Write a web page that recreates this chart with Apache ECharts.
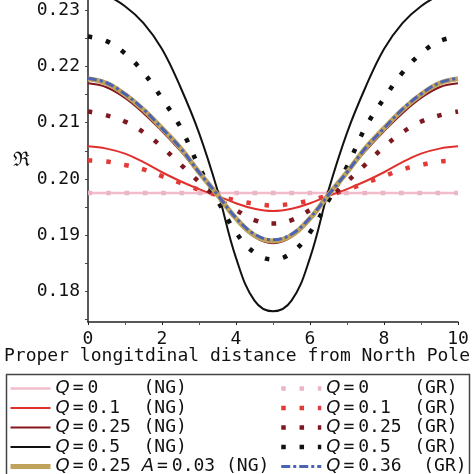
<!DOCTYPE html>
<html>
<head>
<meta charset="utf-8">
<script src="https://cdn.jsdelivr.net/npm/echarts@6/dist/echarts.min.js"></script>
<style>
html, body { margin: 0; padding: 0; background: #fff; }
#chart { width: 474px; height: 474px; }
</style>
</head>
<body>
<div id="chart"></div>
<script>
// proper distance (x) and R values
var xs = [0, 0.5, 1, 1.5, 2, 2.5, 3, 3.5, 4, 4.5, 5, 5.5, 6, 6.5, 7, 7.5, 8, 8.5, 9, 9.5, 10]

var ngQ0 = [0.1975, 0.1975, 0.1975, 0.1975, 0.1975, 0.1975, 0.1975, 0.1975, 0.1975, 0.1975, 0.1975,
    0.1975, 0.1975, 0.1975, 0.1975, 0.1975, 0.1975, 0.1975, 0.1975, 0.1975, 0.1975]
var ngQ01 = [0.2058, 0.2054, 0.2045, 0.2030, 0.2012, 0.1996, 0.1982, 0.1970, 0.1957, 0.1947, 0.1943,
    0.1947, 0.1957, 0.1970, 0.1982, 0.1996, 0.2012, 0.2030, 0.2045, 0.2054, 0.2058]
var ngQ025 = [0.2170, 0.2163, 0.2144, 0.2117, 0.2085, 0.2050, 0.2010, 0.1971, 0.1928, 0.1897, 0.1886,
    0.1897, 0.1928, 0.1971, 0.2010, 0.2050, 0.2085, 0.2117, 0.2144, 0.2163, 0.2170]
var ngQ05 = [0.2334, 0.2326, 0.2307, 0.2277, 0.2231, 0.2163, 0.2082, 0.1980, 0.1860, 0.1784, 0.1765,
    0.1784, 0.1860, 0.1980, 0.2082, 0.2163, 0.2231, 0.2277, 0.2307, 0.2326, 0.2334]
var ngQ025A = [0.2178, 0.2170, 0.2150, 0.2123, 0.2090, 0.2055, 0.2012, 0.1972, 0.1930, 0.1900, 0.1890,
    0.1900, 0.1930, 0.1972, 0.2012, 0.2055, 0.2090, 0.2123, 0.2150, 0.2170, 0.2178]

var grQ0 = [0.1975, 0.1975, 0.1975, 0.1975, 0.1975, 0.1975, 0.1975, 0.1975, 0.1975, 0.1975, 0.1975,
    0.1975, 0.1975, 0.1975, 0.1975, 0.1975, 0.1975, 0.1975, 0.1975, 0.1975, 0.1975]
var grQ01 = [0.2033, 0.2031, 0.2025, 0.2017, 0.2005, 0.1993, 0.1981, 0.1971, 0.1962, 0.1956, 0.1953,
    0.1956, 0.1962, 0.1971, 0.1981, 0.1993, 0.2005, 0.2017, 0.2025, 0.2031, 0.2033]
var grQ025 = [0.2120, 0.2113, 0.2102, 0.2083, 0.2057, 0.2026, 0.1995, 0.1966, 0.1945, 0.1927, 0.1921,
    0.1927, 0.1945, 0.1966, 0.1995, 0.2026, 0.2057, 0.2083, 0.2102, 0.2113, 0.2120]
var grQ05 = [0.2253, 0.2245, 0.2223, 0.2189, 0.2143, 0.2092, 0.2022, 0.1962, 0.1905, 0.1869, 0.1857,
    0.1869, 0.1905, 0.1962, 0.2022, 0.2092, 0.2143, 0.2189, 0.2223, 0.2245, 0.2253]
var grQ036 = [0.2179, 0.2171, 0.2151, 0.2124, 0.2090, 0.2055, 0.2012, 0.1972, 0.1931, 0.1902, 0.1892,
    0.1902, 0.1931, 0.1972, 0.2012, 0.2055, 0.2090, 0.2124, 0.2151, 0.2171, 0.2179]

var yTickLabels = [0.18, 0.19, 0.20, 0.21, 0.22, 0.23]
var yTicks = [0.175, 0.18, 0.185, 0.19, 0.195, 0.20, 0.205, 0.21, 0.215, 0.22, 0.225, 0.23]

var mono = 'DejaVu Sans Mono'

// legend texts, keyed by series name
var legendText = {
    'ng0': '{q|Q}{e|=}{v|0}{n|(NG)}',
    'ng01': '{q|Q}{e|=}{v|0.1}{n|(NG)}',
    'ng025': '{q|Q}{e|=}{v|0.25}{n|(NG)}',
    'ng05': '{q|Q}{e|=}{v|0.5}{n|(NG)}',
    'ng025A': '{q|Q}{e|=}{n|0.25 }{q|A}{e|=}{n|0.03 (NG)}',
    'gr0': '{q|Q}{e|=}{v|0}{n|(GR)}',
    'gr01': '{q|Q}{e|=}{v|0.1}{n|(GR)}',
    'gr025': '{q|Q}{e|=}{v|0.25}{n|(GR)}',
    'gr05': '{q|Q}{e|=}{v|0.5}{n|(GR)}',
    'gr036': '{q|Q}{e|=}{n|0.36  (GR)}'
}

function pairs(arr) {
    return xs.map(function (x, i) { return [x, arr[i]] })
}

function solid(name, arr, color, width) {
    return {
        name: name, type: 'line', data: pairs(arr), smooth: 0.4,
        symbol: 'none', color: color,
        lineStyle: { color: color, width: width }
    }
}

function dotted(name, arr, color) {
    return {
        name: name, type: 'line', data: pairs(arr), smooth: 0.4,
        symbol: 'none', color: color,
        lineStyle: { color: color, width: 4.5, type: [4.5, 13.8], cap: 'butt' }
    }
}

function legendBox(left, names) {
    return {
        orient: 'vertical', left: left, top: 379, height: 130, padding: 0,
        itemWidth: 40, itemHeight: 14, itemGap: 0.5,
        selectedMode: false,
        data: names,
        itemStyle: { opacity: 0 },
        lineStyle: { width: 'inherit' },
        formatter: function (name) { return legendText[name] },
        textStyle: {
            fontFamily: mono, fontSize: 18, color: '#111', lineHeight: 19,
            rich: {
                q: { fontFamily: 'DejaVu Sans', fontStyle: 'italic', fontSize: 18, lineHeight: 19 },
                e: { fontFamily: mono, fontSize: 18, padding: [0, 4, 0, 3], lineHeight: 19 },
                v: { fontFamily: mono, fontSize: 18, width: 56, align: 'left', lineHeight: 19 },
                n: { fontFamily: mono, fontSize: 18, lineHeight: 19 }
            }
        }
    }
}

window.onload = function () {
    var chart = echarts.init(document.getElementById('chart'), null, { renderer: 'canvas' })

    var option = {
        animation: false,
        backgroundColor: '#fff',
        textStyle: { fontFamily: mono },
        title: {
            text: 'Proper longitdinal distance from North Pole',
            left: 'center', top: 347, padding: 0,
            textStyle: { fontFamily: mono, fontSize: 18, fontWeight: 'normal', color: '#111' }
        },
        grid: { left: 88, right: 16, top: 0, bottom: 152 },
        xAxis: {
            type: 'value', min: 0, max: 10, interval: 2,
            axisLine: { lineStyle: { color: '#222', width: 1.5 } },
            axisTick: { inside: false, length: 3, lineStyle: { color: '#222' } },
            minorTick: { show: true, splitNumber: 2, length: 3, lineStyle: { color: '#555' } },
            splitLine: { show: false },
            axisLabel: { fontSize: 18, color: '#111', margin: 8, fontFamily: mono }
        },
        yAxis: {
            type: 'value', min: 0.1746, max: 0.2318,
            name: 'ℜ', nameLocation: 'middle', nameRotate: 0, nameGap: 58,
            nameTextStyle: { fontFamily: 'DejaVu Serif', fontSize: 20, color: '#111' },
            axisLine: { show: true, lineStyle: { color: '#222', width: 1.5 } },
            axisTick: { show: true, length: 3, customValues: yTicks, lineStyle: { color: '#444' } },
            splitLine: { show: false },
            axisLabel: {
                fontSize: 18, color: '#111', margin: 8, fontFamily: mono,
                customValues: yTickLabels,
                formatter: function (v) { return v.toFixed(2) }
            }
        },
        legend: [
            legendBox(8, ['ng0', 'ng01', 'ng025', 'ng05', 'ng025A']),
            legendBox(279, ['gr0', 'gr01', 'gr025', 'gr05', 'gr036'])
        ],
        graphic: [{
            type: 'rect', left: 4, top: 372, silent: true,
            shape: { width: 463, height: 130 },
            style: { fill: 'none', stroke: '#444', lineWidth: 1.5 }
        }],
        series: [
            solid('ng0', ngQ0, '#f2bccb', 2.5),
            dotted('gr0', grQ0, '#eab6c6'),
            solid('ng01', ngQ01, '#e0302e', 2),
            dotted('gr01', grQ01, '#e23a36'),
            solid('ng025', ngQ025, '#85161f', 2),
            dotted('gr025', grQ025, '#7e1820'),
            solid('ng05', ngQ05, '#111111', 2),
            dotted('gr05', grQ05, '#111111'),
            solid('ng025A', ngQ025A, '#bfa25c', 5),
            {
                name: 'gr036', type: 'line', data: pairs(grQ036), smooth: 0.4,
                symbol: 'none', color: '#4b63b3',
                lineStyle: { color: '#4b63b3', width: 3, type: [9, 3, 3, 3] }
            }
        ]
    }

    chart.setOption(option)
}
</script>
</body>
</html>
